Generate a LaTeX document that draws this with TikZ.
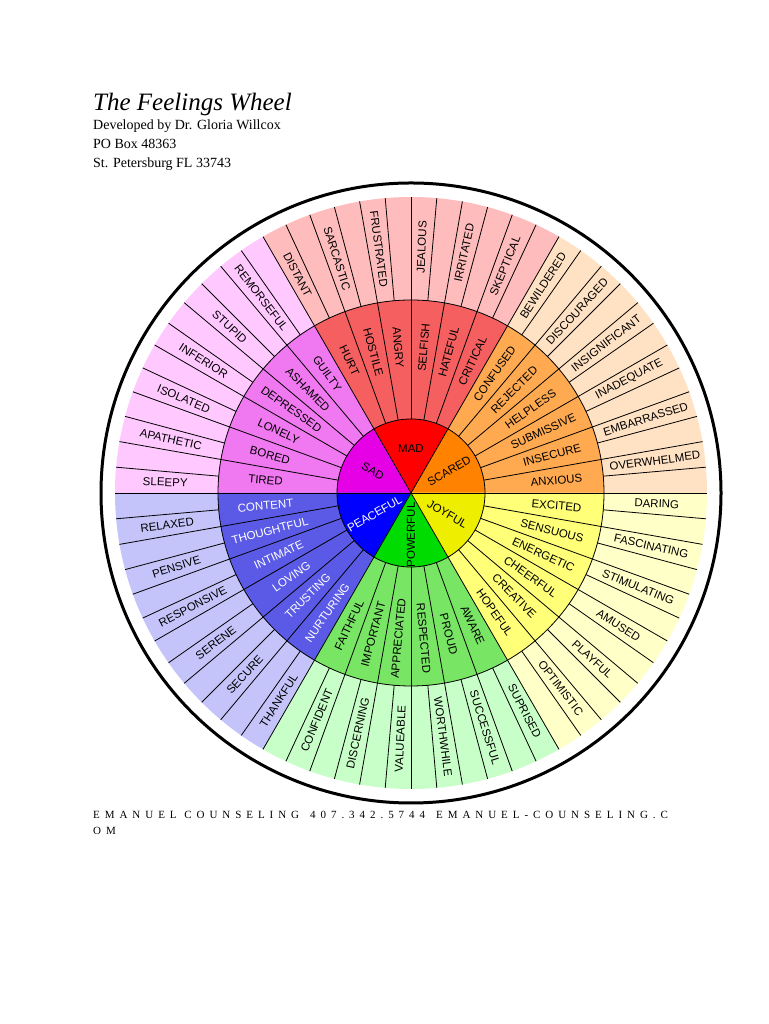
\documentclass[tikz,border=0pt]{standalone}
\usepackage{fontspec}
\usetikzlibrary{calc}
\setmainfont{Liberation Serif}
\newfontfamily\wheelfont{Liberation Sans}
\newfontfamily\footfont[LetterSpace=45]{Liberation Serif}
\definecolor{madA}{RGB}{255,0,0}\definecolor{madB}{RGB}{245,95,95}\definecolor{madC}{RGB}{255,188,188}
\definecolor{scA}{RGB}{255,130,0}\definecolor{scB}{RGB}{255,170,80}\definecolor{scC}{RGB}{255,226,196}
\definecolor{joA}{RGB}{238,238,0}\definecolor{joB}{RGB}{255,255,120}\definecolor{joC}{RGB}{255,255,200}
\definecolor{poA}{RGB}{0,220,0}\definecolor{poB}{RGB}{120,230,100}\definecolor{poC}{RGB}{200,255,200}
\definecolor{peA}{RGB}{0,0,255}\definecolor{peB}{RGB}{90,90,230}\definecolor{peC}{RGB}{196,196,250}
\definecolor{saA}{RGB}{230,0,230}\definecolor{saB}{RGB}{240,120,240}\definecolor{saC}{RGB}{255,200,255}
\tikzset{wordlbl/.style={font=\wheelfont\fontsize{11.5}{12}\selectfont,inner sep=0pt},
 hdr/.style={anchor=base west,inner sep=0pt,font=\fontsize{14}{16}\selectfont}}
\begin{document}
\begin{tikzpicture}[x=1pt,y=1pt]
\useasboundingbox (0,0) rectangle (768,1024);
\coordinate (C) at (411,531);
\node[hdr,font=\itshape\fontsize{25}{28}\selectfont] (title) at (93,913) {The Feelings Wheel};
\node[hdr] (h1) at (93,894) {Developed by Dr. Gloria Willcox};
\node[hdr] (h2) at (93,875) {PO Box 48363};
\node[hdr] (h3) at (93,856) {St. Petersburg FL 33743};
\node[anchor=base west,inner sep=0pt,font=\footfont\fontsize{11}{13}\selectfont] (f1) at (93,205) {EMANUEL COUNSELING\quad 407.342.5744\quad EMANUEL-COUNSELING.C};
\node[anchor=base west,inner sep=0pt,font=\footfont\fontsize{11}{13}\selectfont] (f2) at (93,189) {OM};
\draw[line width=3pt,fill=white] (C) circle[radius=310];
\foreach \s/\a/\b/\c in {0/scA/scB/scC,60/madA/madB/madC,120/saA/saB/saC,180/peA/peB/peC,240/poA/poB/poC,300/joA/joB/joC}{
 \fill[\c] (C) -- ++(\s:296) arc[start angle=\s,end angle=\s+60,radius=296] -- cycle;
 \fill[\b] (C) -- ++(\s:193) arc[start angle=\s,end angle=\s+60,radius=193] -- cycle;
 \fill[\a] (C) -- ++(\s:74) arc[start angle=\s,end angle=\s+60,radius=74] -- cycle;
}
\foreach \k in {0,5,...,355} \draw[line width=0.8pt] ($(C)+(\k:193)$) -- ($(C)+(\k:296)$);
\foreach \k in {0,10,...,350} \draw[line width=0.8pt] ($(C)+(\k:74)$) -- ($(C)+(\k:193)$);
\foreach \k in {0,60,...,300} \draw[line width=0.8pt] (C) -- ($(C)+(\k:74)$);
\draw[line width=0.8pt] (C) circle[radius=74] (C) circle[radius=193];
\foreach \w [count=\i from 0] in {OVERWHELMED,EMBARRASSED,INADEQUATE,INSIGNIFICANT,DISCOURAGED,BEWILDERED,SKEPTICAL,IRRITATED,JEALOUS,FRUSTRATED,SARCASTIC,DISTANT,REMORSEFUL,STUPID,INFERIOR,ISOLATED,APATHETIC,SLEEPY,RELAXED,PENSIVE,RESPONSIVE,SERENE,SECURE,THANKFUL,CONFIDENT,DISCERNING,VALUEABLE,WORTHWHILE,SUCCESSFUL,SUPRISED,OPTIMISTIC,PLAYFUL,AMUSED,STIMULATING,FASCINATING,DARING}{
 \pgfmathsetmacro\ang{7.5+10*\i}
 \pgfmathsetmacro\rot{(\ang>90 && \ang<270) ? \ang-180 : \ang}
 \node[wordlbl,rotate=\rot] (o\i) at ($(C)+(\ang:246)$) {\w};
}
\foreach \w [count=\i from 0] in {ANXIOUS,INSECURE,SUBMISSIVE,HELPLESS,REJECTED,CONFUSED,CRITICAL,HATEFUL,SELFISH,ANGRY,HOSTILE,HURT,GUILTY,ASHAMED,DEPRESSED,LONELY,BORED,TIRED,CONTENT,THOUGHTFUL,INTIMATE,LOVING,TRUSTING,NURTURING,FAITHFUL,IMPORTANT,APPRECIATED,RESPECTED,PROUD,AWARE,HOPEFUL,CREATIVE,CHEERFUL,ENERGETIC,SENSUOUS,EXCITED}{
 \pgfmathsetmacro\ang{5+10*\i}
 \pgfmathsetmacro\rot{(\ang>90 && \ang<270) ? \ang-180 : \ang}
 \pgfmathsetmacro\tc{(\i>17 && \i<24) ? 1 : 0}
 \ifdim\tc pt>0.5pt \def\mycol{white}\else\def\mycol{black}\fi
 \node[wordlbl,rotate=\rot,text=\mycol] (m\i) at ($(C)+(\ang:146)$) {\w};
}
\node[wordlbl] (cMad) at ($(C)+(90:44)$) {MAD};
\node[wordlbl,rotate=30] (cScared) at ($(C)+(30:44)$) {SCARED};
\node[wordlbl,rotate=-30] (cSad) at ($(C)+(150:44)$) {SAD};
\node[wordlbl,rotate=30,text=white] (cPeace) at ($(C)+(210:42)$) {PEACEFUL};
\node[wordlbl,rotate=90] (cPow) at ($(C)+(270:42)$) {POWERFUL};
\node[wordlbl,rotate=-30] (cJoy) at ($(C)+(330:42)$) {JOYFUL};
\end{tikzpicture}
\end{document}
